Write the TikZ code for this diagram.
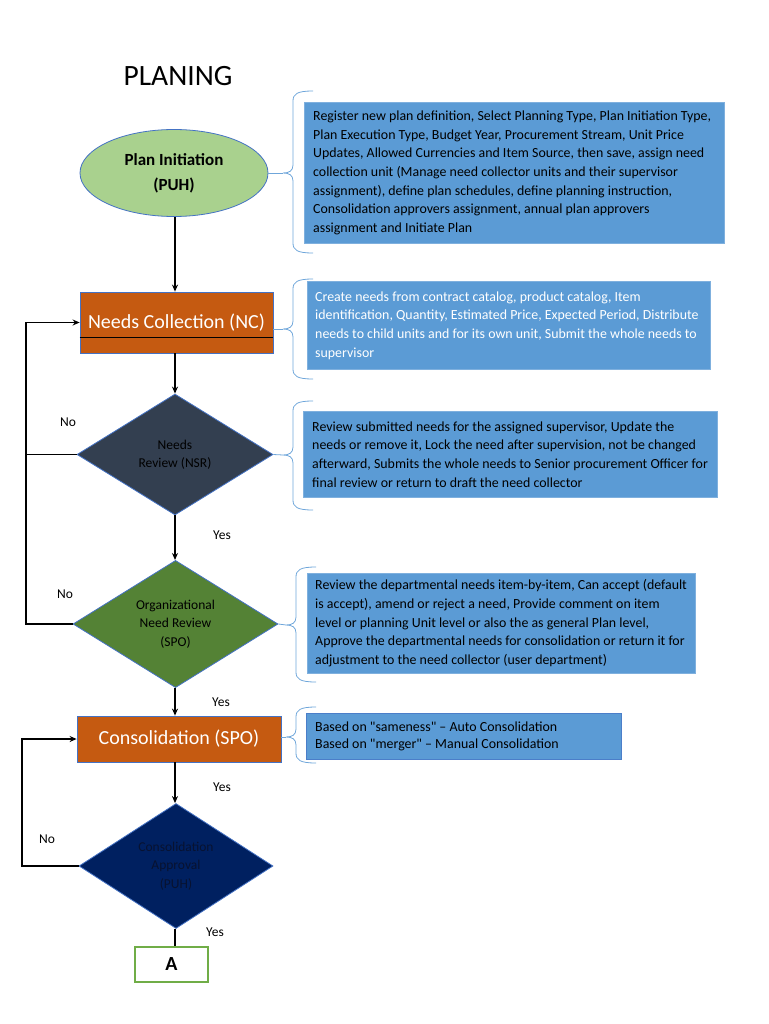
\documentclass[tikz,border=0pt]{standalone}
\usepackage{fontspec}
\setmainfont{Carlito}
\newfontfamily\plaincarlito{Carlito}
\usetikzlibrary{shapes.geometric,arrows.meta}
\definecolor{orangebox}{HTML}{C55A11}
\definecolor{shapeborder}{HTML}{4472C4}
\definecolor{ellfill}{HTML}{A9D18E}
\definecolor{nsrfill}{HTML}{333F50}
\definecolor{spofill}{HTML}{548235}
\definecolor{cafill}{HTML}{002060}
\definecolor{catext}{HTML}{081230}
\definecolor{descfill}{HTML}{5B9BD5}
\definecolor{descborder}{HTML}{7FB0DE}
\definecolor{bracecol}{HTML}{6FA6DA}
\definecolor{agreen}{HTML}{70AD47}
\newcommand{\wordbrace}[4]{%
  \draw[bracecol, line width=0.8pt] (#1+20,#2) .. controls (#1+4,#2) and (#1,#2+3) .. (#1,#2+10)
    -- (#1,#3-8) .. controls (#1,#3-2) and (#1-4,#3) .. (#1-10,#3)
    .. controls (#1-4,#3) and (#1,#3+2) .. (#1,#3+8)
    -- (#1,#4-10) .. controls (#1,#4-3) and (#1+4,#4) .. (#1+20,#4);}
\begin{document}
\begin{tikzpicture}[x=1pt,y=-1pt,
  flow/.style={line width=1.3pt, -{Stealth[length=7pt,width=6pt]}},
  plainline/.style={line width=1.3pt},
  tipline/.style={bracecol, line width=0.8pt},
  descbox/.style={draw=descborder, fill=descfill, line width=0.8pt, inner sep=0pt, anchor=north west},
  desctext/.style={font=\fontsize{13.9}{18.7}\selectfont, align=left, anchor=west, inner sep=0pt},
  procbox/.style={rectangle, fill=orangebox, draw=shapeborder, line width=0.8pt, text=white, font=\fontsize{20}{24}\selectfont, inner sep=0pt},
  decision/.style={diamond, draw=shapeborder, line width=0.8pt, inner sep=0pt, align=center, font=\fontsize{13.5}{18.5}\selectfont},
  lbl/.style={font=\fontsize{13.5}{16}\selectfont, inner sep=0pt}
]
\useasboundingbox (0,0) rectangle (768,1024);

% title
\node[font=\fontsize{29.5}{34}\selectfont, inner sep=0pt] (title) at (178,76) {PLANING};

% main flow nodes
\node[ellipse, fill=ellfill, draw=shapeborder, line width=0.8pt, minimum width=188pt, minimum height=87pt, inner sep=0pt, align=center, font=\bfseries\fontsize{17}{25}\selectfont] (pi) at (174,173) {Plan Initiation\\(PUH)};

\node[procbox, minimum width=193pt, minimum height=61pt] (nc) at (176.5,322.5) {Needs Collection (NC)};
\draw[black, line width=0.9pt] ([yshift=-14.5pt]nc.west) -- ([yshift=-14.5pt]nc.east);

\node[decision, fill=nsrfill, minimum width=196pt, minimum height=121pt, text=black] (nsr) at (175,454.5) {Needs\\Review (NSR)};

\node[decision, fill=spofill, minimum width=205pt, minimum height=126pt, text=black] (spo) at (175.5,624) {Organizational\\Need Review\\(SPO)};

\node[procbox, minimum width=204pt, minimum height=46pt] (cons) at (179,739) {Consolidation (SPO)};

\node[decision, fill=cafill, minimum width=194pt, minimum height=125pt, text=catext] (ca) at (176,866) {Consolidation\\Approval\\(PUH)};

\node[rectangle, draw=agreen, line width=1.4pt, fill=white, minimum width=73pt, minimum height=35pt, inner sep=0pt, font=\bfseries\fontsize{20}{24}\selectfont] (A) at (171.5,964.5) {A};

% main connectors
\draw[flow] (pi.south -| 175,0) -- (nc.north -| 175,0);
\draw[flow] (nc.south -| 175,0) -- (nsr.north);
\draw[flow] (nsr.south) -- (spo.north -| nsr.south);
\draw[flow] (spo.south -| 175,0) -- (cons.north -| 175,0);
\draw[flow] (cons.south -| 175,0) -- (ca.north -| 175,0);
\draw[plainline] (ca.south -| 175,0) -- (A.north -| 175,0);

% loops
\coordinate (loopa) at (26,454.5);
\coordinate (loopb) at (26,624);
\coordinate (loopc) at (22,866);
\draw[flow] (nsr.west) -- (loopa) |- (nc.west);
\draw[plainline] (spo.west) -- (loopb) -- (loopa);
\draw[flow] (ca.west) -- (loopc) |- (cons.west);

% labels
\node[lbl] (no1) at (68,422) {No};
\node[lbl] (yes1) at (222,535) {Yes};
\node[lbl] (no2) at (65,594) {No};
\node[lbl] (yes2) at (221,702) {Yes};
\node[lbl] (yes3) at (222,787) {Yes};
\node[lbl] (no3) at (47,839) {No};
\node[lbl] (yes4) at (215,932) {Yes};

% description boxes
\node[descbox, minimum width=420pt, minimum height=141pt] (d1) at (304,102) {};
\node[desctext] (t1) at ([xshift=9pt]d1.west) {Register new plan definition, Select Planning Type, Plan Initiation Type,\\Plan Execution Type, Budget Year, Procurement Stream, Unit Price\\Updates, Allowed Currencies and Item Source, then save, assign need\\collection unit (Manage need collector units and their supervisor\\assignment), define plan schedules, define planning instruction,\\Consolidation approvers assignment, annual plan approvers\\assignment and Initiate Plan};

\node[descbox, minimum width=403pt, minimum height=88pt] (d2) at (307,281) {};
\node[desctext, text=white] (t2) at ([xshift=8pt]d2.west) {Create needs from contract catalog, product catalog, Item\\identification, Quantity, Estimated Price, Expected Period, Distribute\\needs to child units and for its own unit, Submit the whole needs to\\supervisor};

\node[descbox, minimum width=414pt, minimum height=86pt] (d3) at (303,411) {};
\node[desctext] (t3) at ([xshift=9pt]d3.west) {Review submitted needs for the assigned supervisor, Update the\\needs or remove it, Lock the need after supervision, not be changed\\afterward, Submits the whole needs to Senior procurement Officer for\\final review or return to draft the need collector};

\node[descbox, minimum width=388pt, minimum height=100pt] (d4) at (307,573) {};
\node[desctext] (t4) at ([xshift=8pt]d4.west) {Review the departmental needs item-by-item, Can accept (default\\is accept), amend or reject a need, Provide comment on item\\level or planning Unit level or also the as general Plan level,\\Approve the departmental needs for consolidation or return it for\\adjustment to the need collector (user department)};

\node[descbox, minimum width=315pt, minimum height=46pt, draw=shapeborder!70!descfill] (d5) at (306,713) {};
\node[desctext, font=\plaincarlito\fontsize{13.9}{17}\selectfont] (t5) at ([xshift=9pt]d5.west) {Based on "sameness" – Auto Consolidation\\Based on "merger" – Manual Consolidation};

% braces
\wordbrace{293}{91}{173}{253}
\wordbrace{293}{279}{329}{379}
\wordbrace{293}{401}{455}{510}
\wordbrace{296}{567}{625}{682}
\wordbrace{296}{707}{737}{763}
\coordinate (b1) at (283,173);
\coordinate (b2) at (283,329);
\coordinate (b3) at (283,455);
\coordinate (b4) at (286,625);
\coordinate (b5) at (286,737);
\draw[tipline] (pi.east) -- (b1);
\draw[tipline] (nc.east |- b2) -- (b2);
\draw[tipline] (nsr.east) -- (b3);
\draw[tipline] (spo.east) -- (b4);
\draw[tipline] (cons.east |- b5) -- (b5);
\end{tikzpicture}
\end{document}
